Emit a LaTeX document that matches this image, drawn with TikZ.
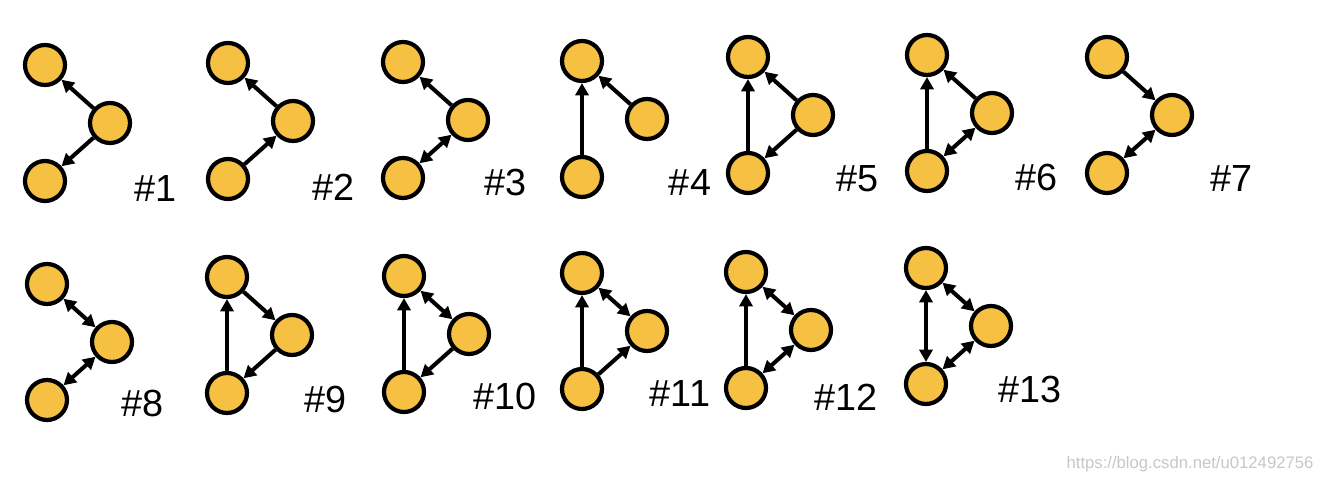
\documentclass[tikz,border=0pt]{standalone}
\usepackage{fontspec}
\setmainfont{Liberation Sans}
\usetikzlibrary{arrows.meta}
\definecolor{dotfill}{RGB}{246,193,66}

\begin{document}
\begin{tikzpicture}[x=0.02cm, y=-0.02cm,
    vertex/.style={circle, draw=black, fill=dotfill, line width=2.4pt,
                   minimum size=0.8cm, inner sep=0pt},
    arr/.style={-{Triangle[length=7pt, width=7.5pt]}, line width=2.3pt},
    dbl/.style={{Triangle[length=7pt, width=7.5pt]}-{Triangle[length=7pt, width=7.5pt]},
                line width=2.3pt},
    tag/.style={font=\fontsize{21.5}{25}\selectfont}]
    \useasboundingbox (0, 0) rectangle (1322, 482);

    % motifs: number / top node x,y / label x,y
    \foreach \n/\x/\y/\lx/\ly in {1/45/65/156/189, 2/228/63/334/187,
        3/403/62/506/183, 4/582/61/690/183, 5/748/57/857/179,
        6/927/55/1036/178, 7/1107/57/1231/179,
        8/47/284/143/403, 9/227/277/326/399, 10/404/276/505/396,
        11/582/273/680/394, 12/746/272/846/397, 13/926/268/1030/389} {
      \node[vertex] (t\n) at (\x, \y) {};
      \node[vertex] (r\n) at (\x+65, \y+58) {};
      \node[vertex] (b\n) at (\x, \y+116) {};
      \node[tag] (l\n) at (\lx, \ly) {\#\n};
    }

    % one way edges
    \foreach \a/\b in {r1/t1, r1/b1, r2/t2, b2/r2, r3/t3,
        b4/t4, r4/t4, b5/t5, r5/t5, r5/b5, b6/t6, r6/t6, t7/r7,
        b9/t9, t9/r9, r9/b9, b10/t10, r10/b10, b11/t11, b11/r11,
        b12/t12}
      \draw[arr] (\a) -- (\b);

    % mutual edges
    \foreach \a/\b in {r3/b3, r6/b6, r7/b7, t8/r8, r8/b8,
        t10/r10, t11/r11, t12/r12, r12/b12,
        t13/b13, t13/r13, r13/b13}
      \draw[dbl] (\a) -- (\b);

    \node[text=black!22, font=\fontsize{9.5}{11}\selectfont]
      (mark) at (1190, 464) {https://blog.csdn.net/u012492756};
\end{tikzpicture}
\end{document}
